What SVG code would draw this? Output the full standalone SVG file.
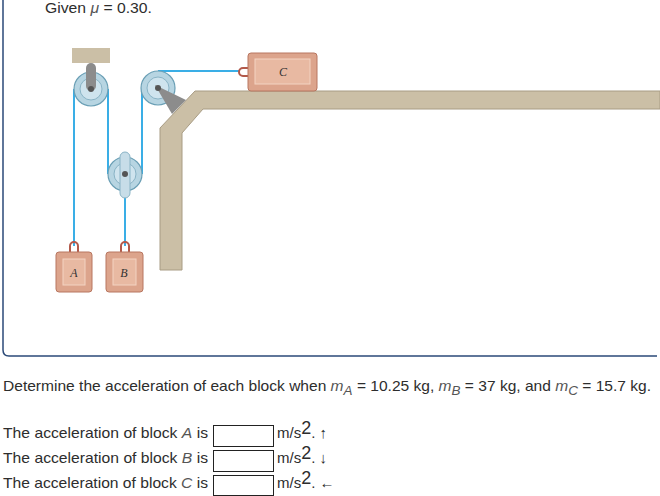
<svg xmlns="http://www.w3.org/2000/svg" width="660" height="496" viewBox="0 0 660 496">
<style>
.t{font-family:"Liberation Sans",Arial,sans-serif;font-size:15px;fill:#2d2d2d}
.i{font-style:italic;fill:#555}
.rope{stroke:#3aaee6;stroke-width:2;fill:none}
.pul{fill:#b7d5e2;stroke:#6a9fb5;stroke-width:1.2}
.blk{fill:#dca48c;stroke:#b87660;stroke-width:1}
.inn{fill:#e8b9a2;stroke:#f3d3c2;stroke-width:1}
.hook{fill:none;stroke:#b2594a;stroke-width:2}
.lab{font-family:"Liberation Serif",serif;font-style:italic;font-size:12px;fill:#333;text-anchor:middle}
.box{fill:#fff;stroke:#222;stroke-width:1}
</style>
<path d="M3,0 V350 Q3,356 9,356 H657" fill="none" stroke="#2b4a78" stroke-width="1.5"/>
<text class="t" x="45" y="13" textLength="107" lengthAdjust="spacingAndGlyphs">Given <tspan class="i">μ</tspan> = 0.30.</text>
<g id="wall"><path d="M195,91 H660 V109 H203 L182,133 V270 H160 V128 Z" fill="#cbbfa6" stroke="#a89c84" stroke-width="1"/></g>
<g id="ceiling"><rect x="72" y="48" width="38" height="15" fill="#cbbfa6"/></g>
<g id="connectors">
<path class="rope" d="M74,89 V246"/>
<path class="rope" d="M108,89 V174"/>
<path class="rope" d="M142,174 V88"/>
<path class="rope" d="M158,71 H240"/>
<path class="rope" d="M125,195 V246"/>
</g>
<g id="pulley1"><circle class="pul" cx="91" cy="89" r="17"/><circle cx="91" cy="89" r="11" fill="#cfe4ee" stroke="#8ab4c6"/><rect x="86" y="63" width="10" height="28" rx="5" fill="#8c8c8c"/><circle cx="91" cy="89" r="3" fill="#555"/></g>
<g id="pulley2"><circle class="pul" cx="158" cy="88" r="17"/><circle cx="158" cy="88" r="11" fill="#cfe4ee" stroke="#8ab4c6"/><path d="M155,85 L186,100 L172,114 Z" fill="#8c8c8c"/><circle cx="158" cy="88" r="3" fill="#555"/></g>
<g id="pulley3"><circle class="pul" cx="125" cy="174" r="17"/><circle cx="125" cy="174" r="11" fill="#cfe4ee" stroke="#8ab4c6"/><rect x="120" y="152" width="10" height="46" rx="5" fill="#c7dde8" stroke="#8ab4c6"/><circle cx="125" cy="174" r="3" fill="#555"/></g>
<g id="blockA"><path class="hook" d="M70,253 V246 A4,4 0 0 1 78,246 V253"/><rect class="blk" x="56" y="252" width="36" height="40" rx="3"/><rect class="inn" x="63" y="259" width="22" height="26"/><text class="lab" x="74" y="277">A</text></g>
<g id="blockB"><path class="hook" d="M121,253 V246 A4,4 0 0 1 129,246 V253"/><rect class="blk" x="106" y="252" width="37" height="40" rx="3"/><rect class="inn" x="113" y="259" width="23" height="26"/><text class="lab" x="124" y="277">B</text></g>
<g id="blockC"><path class="hook" d="M248,68 H243 A4,4 0 0 0 243,76 H248"/><rect class="blk" x="248" y="53" width="69" height="38" rx="3"/><rect class="inn" x="255" y="59" width="55" height="25"/><text class="lab" x="283" y="76">C</text></g>
<text class="t" x="3" y="391" textLength="648" lengthAdjust="spacingAndGlyphs">Determine the acceleration of each block when <tspan class="i">m</tspan><tspan class="i" dy="4" font-size="13">A</tspan><tspan dy="-4"> = 10.25 kg, </tspan><tspan class="i">m</tspan><tspan class="i" dy="4" font-size="13">B</tspan><tspan dy="-4"> = 37 kg, and </tspan><tspan class="i">m</tspan><tspan class="i" dy="4" font-size="13">C</tspan><tspan dy="-4"> = 15.7 kg.</tspan></text>
<g id="rowA"><text class="t" x="3" y="438" textLength="205" lengthAdjust="spacingAndGlyphs">The acceleration of block <tspan class="i">A</tspan> is</text><rect class="box" x="213.5" y="425.5" width="60" height="21"/><text class="t" x="277" y="438">m/s<tspan font-size="18" dy="-4">2</tspan><tspan dy="4">. ↑</tspan></text></g>
<g id="rowB"><text class="t" x="3" y="463" textLength="205" lengthAdjust="spacingAndGlyphs">The acceleration of block <tspan class="i">B</tspan> is</text><rect class="box" x="213.5" y="450.5" width="60" height="21"/><text class="t" x="277" y="463">m/s<tspan font-size="18" dy="-4">2</tspan><tspan dy="4">. ↓</tspan></text></g>
<g id="rowC"><text class="t" x="3" y="488" textLength="205" lengthAdjust="spacingAndGlyphs">The acceleration of block <tspan class="i">C</tspan> is</text><rect class="box" x="213.5" y="475.5" width="60" height="20"/><text class="t" x="277" y="488">m/s<tspan font-size="18" dy="-4">2</tspan><tspan dy="4">. ←</tspan></text></g>
</svg>
